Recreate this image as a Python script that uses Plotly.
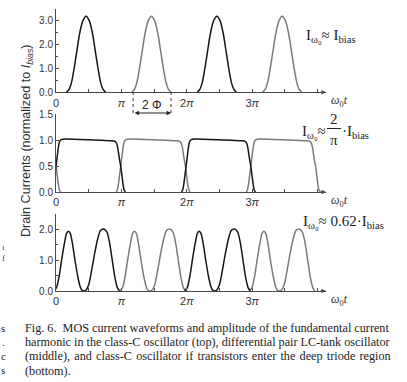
import plotly.graph_objects as go

# ---------------- data (x in units of pi) ----------------
top_pulse_offset = [-0.30, -0.26, -0.22, -0.18, -0.14, -0.10, -0.05, 0.0, 0.05, 0.10, 0.14, 0.18, 0.22, 0.26, 0.30]
top_pulse_value = [0.0, 0.12, 0.45, 1.05, 1.75, 2.45, 3.0, 3.2, 3.0, 2.45, 1.75, 1.05, 0.45, 0.12, 0.0]
top_black_centers = [0.46, 2.46]
top_gray_centers = [1.46, 3.46]

# middle panel: differential pair, near-square half-period pulses
mid_offset = [-0.07, -0.05, -0.035, -0.02, 0.0, 0.02, 0.035, 0.05, 0.07, 0.10, 0.13,
              0.86, 0.90, 0.925, 0.945, 0.96, 0.975, 0.99, 1.01, 1.025, 1.04, 1.06]
mid_value = [0.0, 0.05, 0.15, 0.30, 0.50, 0.70, 0.85, 0.95, 1.0, 1.015, 1.02,
             0.985, 0.975, 0.94, 0.85, 0.72, 0.60, 0.50, 0.30, 0.15, 0.05, 0.0]
mid_black_starts = [0.0, 1.99]
mid_gray_starts = [-0.99, 0.99, 2.98]

# bottom panel: class-C in deep triode, double-humped pulses
bot_offset = [0.0, 0.04, 0.08, 0.12, 0.16, 0.19, 0.22, 0.25, 0.28, 0.32, 0.36, 0.40, 0.43, 0.46,
              0.49, 0.53, 0.57, 0.62, 0.67, 0.71, 0.76, 0.81, 0.85, 0.89, 0.93, 0.97, 1.0]
bot_value = [0.0, 0.12, 0.50, 1.05, 1.55, 1.85, 1.93, 1.85, 1.55, 1.00, 0.50, 0.14, 0.02, 0.0,
             0.03, 0.20, 0.60, 1.20, 1.70, 1.95, 2.0, 1.90, 1.55, 1.00, 0.45, 0.10, 0.0]
bot_black_starts = [-0.03, 1.97]
bot_gray_starts = [0.98, 2.96]

# dotted markers of the conduction angle 2*Phi
phi_edges = [1.18, 1.76]

x_tickvals = [0, 1, 2, 3]
x_ticktext = ["0", "<i>π</i>", "2<i>π</i>", "3<i>π</i>"]
x_minor = [0.5, 1.5, 2.5, 3.5, 4.0]
top_yticks = [0.0, 1.0, 2.0, 3.0]
mid_yticks = [0.0, 0.5, 1.0, 1.5]
bot_yticks = [0.0, 1.0, 2.0]

BLACK = "#151515"
GRAY = "#7a7a7a"
AXC = "#4a4a4a"


def series(offsets, values, starts):
    xs, ys = [], []
    for s in starts:
        xs += [s + o for o in offsets] + [None]
        ys += list(values) + [None]
    return xs, ys


fig = go.Figure()
panels = [
    ("x", "y", top_pulse_offset, top_pulse_value, top_black_centers, top_gray_centers),
    ("x2", "y2", mid_offset, mid_value, mid_black_starts, mid_gray_starts),
    ("x3", "y3", bot_offset, bot_value, bot_black_starts, bot_gray_starts),
]
for xa, ya, off, val, bstarts, gstarts in panels:
    for starts, col in ((gstarts, GRAY), (bstarts, BLACK)):
        xs, ys = series(off, val, starts)
        fig.add_trace(go.Scatter(x=xs, y=ys, xaxis=xa, yaxis=ya, mode="lines",
                                 line=dict(color=col, width=1.5, shape="spline", smoothing=0.6),
                                 hoverinfo="skip", showlegend=False))

# ---------------- layout ----------------
W, H = 407, 382
L, R, T, B = 56, 81, 9, 91
PW, PH = W - L - R, H - T - B


def px(xp):
    return (xp - L) / PW


def py(yp):
    return (H - B - yp) / PH


tickfont = dict(family="Liberation Sans, Arial", size=10, color="#333")
xcommon = dict(range=[0, 4.13], showline=True, linecolor=AXC, linewidth=1, automargin=False,
               tickmode="array", tickvals=x_tickvals, ticktext=x_ticktext, ticks="inside", ticklen=3,
               tickcolor=AXC, minor=dict(tickmode="array", tickvals=x_minor, ticks="inside", ticklen=3, tickcolor=AXC),
               showgrid=False, zeroline=False, tickfont=dict(family="Liberation Sans, Arial", size=11, color="#333"),
               fixedrange=True)
ycommon = dict(showline=True, linecolor=AXC, linewidth=1, ticks="inside", ticklen=3, automargin=False,
               tickcolor=AXC, showgrid=False, zeroline=False, tickfont=tickfont, fixedrange=True,
               tickformat=".1f", tickmode="array")

fig.update_layout(
    template="none",
    width=W, height=H, margin=dict(l=L, r=R, t=T, b=B, autoexpand=False),
    paper_bgcolor="white", plot_bgcolor="white",
    xaxis=dict(xcommon, anchor="y", domain=[0, 1]),
    xaxis2=dict(xcommon, anchor="y2", domain=[0, 1]),
    xaxis3=dict(xcommon, anchor="y3", domain=[0, 1]),
    yaxis=dict(ycommon, anchor="x", domain=[py(92.3), 1.0], range=[0, 3.5], tickvals=top_yticks,
               minor=dict(dtick=0.5, ticks="inside", ticklen=2, tickcolor=AXC)),
    yaxis2=dict(ycommon, anchor="x2", domain=[py(192), py(114)], range=[0, 1.5], tickvals=mid_yticks),
    yaxis3=dict(ycommon, anchor="x3", domain=[0.0, py(213.5)], range=[0, 2.5], tickvals=bot_yticks,
                minor=dict(dtick=0.5, ticks="inside", ticklen=2, tickcolor=AXC)),
)

ann = []
shapes = []


def txt(xp, yp, text, size, family, color="#222", xanchor="center", **kw):
    d = dict(x=px(xp), y=py(yp), xref="paper", yref="paper", xanchor=xanchor, yanchor="middle",
             showarrow=False, text=text, font=dict(family=family, size=size, color=color))
    d.update(kw)
    ann.append(d)


serif = "Liberation Serif, Times New Roman"
sans = "Liberation Sans, Arial"

# axis arrows and omega0 t labels
for xa, ya, lab_y in (("x", "y", 101), ("x2", "y2", 201), ("x3", "y3", 300)):
    ann.append(dict(x=4.13, y=0, xref=xa, yref=ya, ax=4.02, ay=0, axref=xa, ayref=ya,
                    text="", showarrow=True, arrowhead=2, arrowsize=0.9, arrowwidth=1, arrowcolor=AXC))
    txt(339, lab_y, "<i>ω</i><sub>0</sub><i>t</i>", 12, serif, "#333")

# 2 Phi markers
for e in phi_edges:
    shapes.append(dict(type="line", xref="x", yref="paper", x0=e, x1=e, y0=py(92), y1=py(115),
                       line=dict(color="#333", width=1, dash="dot")))
ann.append(dict(x=phi_edges[1], y=py(113), xref="x", yref="paper", ax=phi_edges[0], ay=0,
                axref="x", ayref="pixel", text="", showarrow=True, arrowhead=2, startarrowhead=2,
                arrowside="end+start", arrowsize=0.9, arrowwidth=1, arrowcolor="#222"))
ann.append(dict(x=(phi_edges[0] + phi_edges[1]) / 2, y=py(105), xref="x", yref="paper", showarrow=False,
                xanchor="center", yanchor="middle",
                text="2 Φ", font=dict(family=sans, size=12, color="#222")))

# fundamental current formulas
txt(304, 36, "I<sub>ω₀</sub>≈ I<sub>bias</sub>", 15, serif, xanchor="left")
txt(300, 132, "I<sub>ω₀</sub>≈", 15, serif, xanchor="left")
txt(334, 119, "2", 15, serif)
txt(334, 140, "π", 15, serif)
shapes.append(dict(type="line", xref="paper", yref="paper", x0=px(327), x1=px(341), y0=py(128.5), y1=py(128.5),
                   line=dict(color="#222", width=1)))
txt(340, 132, "·I<sub>bias</sub>", 15, serif, xanchor="left")
txt(301, 222, "I<sub>ω₀</sub>≈ 0.62·I<sub>bias</sub>", 15, serif, xanchor="left")

# y axis title
txt(27, 141, "Drain Currents (normalized to <i>I</i><sub><i>bias</i></sub>)", 12.6, sans, "#333", textangle=-90)

# caption
caption = [
    "Fig. 6.  MOS current waveforms and amplitude of the fundamental current",
    "harmonic in the class-C oscillator (top), differential pair LC-tank oscillator",
    "(middle), and class-C oscillator if transistors enter the deep triode region",
    "(bottom).",
]
caption_ws = [0.0, 0.0, 1.2, 0.0]
for i, line in enumerate(caption):
    txt(23, 328 + 14.2 * i, f'<span style="word-spacing:{caption_ws[i]}px">{line}</span>', 12.2, serif,
        xanchor="left")

# cut-off letters of the neighbouring text column
for t, yp, col, sz in (("ı", 247, "#2a4aa8", 9), ("f", 258, "#2a4aa8", 9), ("s", 328, "#222", 11),
                       (".", 342, "#222", 11), ("c", 356, "#222", 11), ("s", 370, "#222", 11)):
    txt(3, yp, t, sz, serif, col)

fig.update_layout(annotations=ann, shapes=shapes)
fig.write_html("out.html", config={"displayModeBar": False},
               post_script="document.body.style.margin='0';document.body.style.padding='0';")
